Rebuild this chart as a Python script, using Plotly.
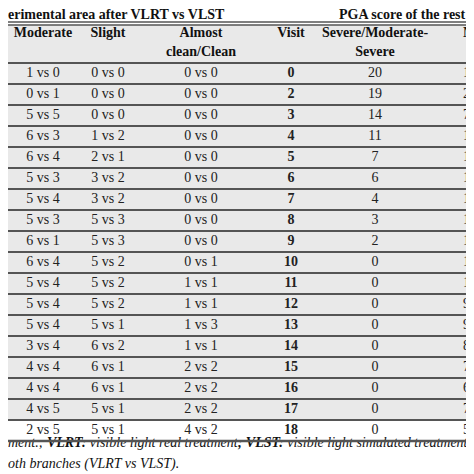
import plotly.graph_objects as go

moderate = ["1 vs 0","0 vs 1","5 vs 5","6 vs 3","6 vs 4","5 vs 3","5 vs 4","5 vs 3","6 vs 1","6 vs 4","5 vs 4","5 vs 4","5 vs 4","3 vs 4","4 vs 4","4 vs 4","4 vs 5","2 vs 5"]
slight = ["0 vs 0","0 vs 0","0 vs 0","1 vs 2","2 vs 1","3 vs 2","3 vs 2","5 vs 3","5 vs 3","5 vs 2","5 vs 2","5 vs 2","5 vs 1","6 vs 2","6 vs 1","6 vs 1","5 vs 1","5 vs 1"]
almost = ["0 vs 0","0 vs 0","0 vs 0","0 vs 0","0 vs 0","0 vs 0","0 vs 0","0 vs 0","0 vs 0","0 vs 1","1 vs 1","1 vs 1","1 vs 3","1 vs 1","2 vs 2","2 vs 2","2 vs 2","4 vs 2"]
visit = [0,2,3,4,5,6,7,8,9,10,11,12,13,14,15,16,17,18]
severe = [20,19,14,11,7,6,4,3,2,0,0,0,0,0,0,0,0,0]
mode_ = [1,2,7,10,12,11,12,12,12,12,12,9,9,8,7,6,7,5]
headers = ["Moderate","Slight","Almost<br>clean/Clean","Visit","Severe/Moderate-<br>Severe","Mode"]

W = H = 474
n = len(visit)
rh = 21.0; y0pix = 65.5
def yv(p): return (p - y0pix) / rh
FONT = "Liberation Serif"
col_x = [35, 100, 193, 283, 367, 455]
rows = list(range(n))

fig = go.Figure()
def txt(x, y, t, pos="middle center", bold=False, size=14, color="#222"):
    fig.add_trace(go.Scatter(x=x, y=y, text=t, mode="text", textposition=pos, cliponaxis=True,
                             hoverinfo="skip", showlegend=False,
                             textfont=dict(family=FONT, size=size, color=color)))

cols = [moderate, slight, almost, ["<b>%d</b>" % v for v in visit], [str(v) for v in severe], [str(v) for v in mode_]]
for i, c in enumerate(cols):
    pos = "middle right" if i == 5 else "middle center"
    txt([col_x[i]] * n, rows, c, pos)
for i, h in enumerate(headers):
    pos = "middle right" if i == 5 else "middle center"
    yy = yv(25) if "<br>" not in h else yv(35)
    txt([col_x[i]], [yy], ["<b>%s</b>" % h], pos, color="#111")
txt([0], [yv(7)], ["<b>erimental area after VLRT vs VLST</b>"], "middle right", color="#111")
txt([331], [yv(7)], ["<b>PGA score of the rest of t</b>"], "middle right", color="#111")
txt([0], [yv(435)], ["<i>ment.; <b>VLRT:</b> visible light real treatment<b>; VLST:</b> visible light simulated treatment.*<b>bo</b></i>"], "middle right", color="#111")
txt([0], [yv(456)], ["<i>oth branches (VLRT vs VLST).</i>"], "middle right", color="#111")

bg = "#e9e9e9"
shapes = [dict(type="rect", xref="x", yref="y", x0=0, x1=W, y0=yv(17), y1=yv(412),
               fillcolor=bg, line_width=0, layer="below")]
def hline(p, w=2, c="#555"):
    shapes.append(dict(type="line", xref="x", yref="y", x0=0, x1=W, y0=yv(p), y1=yv(p),
                       line=dict(color=c, width=w)))
hline(14, 1.5); hline(17, 1.5)
for i in range(n + 1):
    hline(y0pix - rh / 2 + i * rh, 2 if i < n else 2.5)

fig.update_layout(width=W, height=H, margin=dict(l=0, r=0, t=0, b=0), paper_bgcolor="white",
                  plot_bgcolor="white", shapes=shapes,
                  xaxis=dict(range=[0, W], visible=False, fixedrange=True),
                  yaxis=dict(range=[yv(H), yv(0)], visible=False, fixedrange=True))
fig.write_html("out.html")
